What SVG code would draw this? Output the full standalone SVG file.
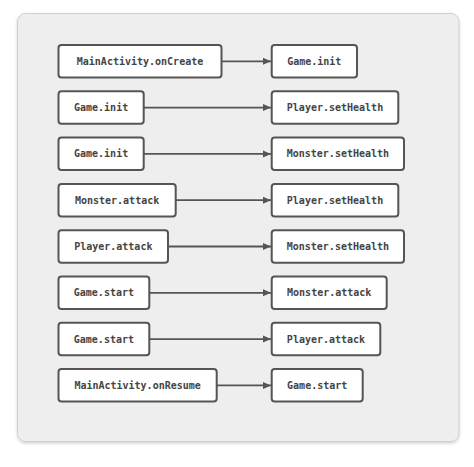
<svg xmlns="http://www.w3.org/2000/svg" width="474" height="467" viewBox="0 0 474 467">
<defs>
<filter id="sh" x="-10%" y="-10%" width="120%" height="120%">
<feDropShadow dx="0" dy="1.5" stdDeviation="1.5" flood-color="#000" flood-opacity="0.18"/>
</filter>
<marker id="ah" viewBox="0 0 8 8" refX="8" refY="4" markerWidth="8" markerHeight="8" markerUnits="userSpaceOnUse" orient="auto">
<path d="M0,0.5 L8,4 L0,7.5 Z" fill="#555"/>
</marker>
<style>
.n rect{fill:#fff;stroke:#555;stroke-width:2}
.n text{font-family:"DejaVu Sans Mono","Liberation Mono",monospace;font-size:10px;font-weight:bold;fill:#444;text-anchor:middle;dominant-baseline:central}
#edges line{stroke:#555;stroke-width:1.8;marker-end:url(#ah)}
</style>
</defs>
<rect width="474" height="467" fill="#fff"/>
<rect x="17.5" y="13.5" width="441.5" height="428" rx="8" fill="#eeeeee" stroke="#cfcfcf" stroke-width="1" filter="url(#sh)"/>
<g id="edges">
<line x1="222" y1="61.3" x2="271" y2="61.3"/>
<line x1="144" y1="107.6" x2="271" y2="107.6"/>
<line x1="144" y1="153.9" x2="271" y2="153.9"/>
<line x1="176" y1="200.2" x2="271" y2="200.2"/>
<line x1="168" y1="246.5" x2="271" y2="246.5"/>
<line x1="149.5" y1="292.8" x2="271" y2="292.8"/>
<line x1="149.5" y1="339.1" x2="271" y2="339.1"/>
<line x1="217" y1="385.4" x2="271" y2="385.4"/>
</g>
<g id="n1" class="n"><rect x="58.5" y="45" width="163" height="32.5" rx="3"/><text x="140" y="61.3">MainActivity.onCreate</text></g>
<g id="n2" class="n"><rect x="271.7" y="45" width="85.3" height="32.5" rx="3"/><text x="314.3" y="61.3">Game.init</text></g>
<g id="n3" class="n"><rect x="58.5" y="91.3" width="85.2" height="32.5" rx="3"/><text x="101.1" y="107.6">Game.init</text></g>
<g id="n4" class="n"><rect x="271.7" y="91.3" width="126.6" height="32.5" rx="3"/><text x="335" y="107.6">Player.setHealth</text></g>
<g id="n5" class="n"><rect x="58.5" y="137.6" width="85.2" height="32.5" rx="3"/><text x="101.1" y="153.9">Game.init</text></g>
<g id="n6" class="n"><rect x="271.7" y="137.6" width="132.3" height="32.5" rx="3"/><text x="337.9" y="153.9">Monster.setHealth</text></g>
<g id="n7" class="n"><rect x="58.5" y="183.9" width="117.2" height="32.5" rx="3"/><text x="117.1" y="200.2">Monster.attack</text></g>
<g id="n8" class="n"><rect x="271.7" y="183.9" width="126.6" height="32.5" rx="3"/><text x="335" y="200.2">Player.setHealth</text></g>
<g id="n9" class="n"><rect x="58.5" y="230.2" width="109.5" height="32.5" rx="3"/><text x="113.3" y="246.5">Player.attack</text></g>
<g id="n10" class="n"><rect x="271.7" y="230.2" width="132.3" height="32.5" rx="3"/><text x="337.9" y="246.5">Monster.setHealth</text></g>
<g id="n11" class="n"><rect x="58.5" y="276.5" width="90.8" height="32.5" rx="3"/><text x="103.9" y="292.8">Game.start</text></g>
<g id="n12" class="n"><rect x="271.7" y="276.5" width="115" height="32.5" rx="3"/><text x="329.2" y="292.8">Monster.attack</text></g>
<g id="n13" class="n"><rect x="58.5" y="322.8" width="90.8" height="32.5" rx="3"/><text x="103.9" y="339.1">Game.start</text></g>
<g id="n14" class="n"><rect x="271.7" y="322.8" width="108.6" height="32.5" rx="3"/><text x="326" y="339.1">Player.attack</text></g>
<g id="n15" class="n"><rect x="58.5" y="369.1" width="158.2" height="32.5" rx="3"/><text x="137.6" y="385.4">MainActivity.onResume</text></g>
<g id="n16" class="n"><rect x="271.7" y="369.1" width="91" height="32.5" rx="3"/><text x="317.2" y="385.4">Game.start</text></g>
</svg>
